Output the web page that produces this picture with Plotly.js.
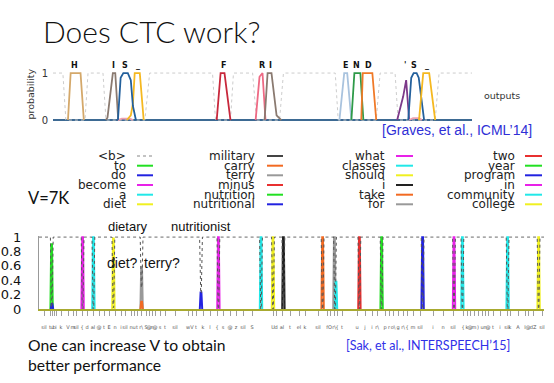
<!DOCTYPE html>
<html><head><meta charset="utf-8">
<script src="https://cdn.plot.ly/plotly-3.0.1.min.js"></script>
<style>html,body{margin:0;padding:0;background:#fff;}#chart{width:554px;height:383px;}</style>
</head><body><div id="chart"></div>
<script>
// ---------- DATA: top plot (CTC character outputs, frames 0..140) ----------
const topLetters = ['H','I','S','_','F','R','I','E','N','D',"'",'S','_'];
const topLetterFrames = [7.3,20.3,24,28.3,57,69.7,72.7,97.7,101.3,105.3,117.7,120.7,125];

const hX = [5,5.9,9.2,10.3];            const hY = [0,1,1,0];
const i1X = [17.6,18.2,20,20.8,21.8];   const i1Y = [0,0.05,1,1,0];
const s1X = [21.7,22.6,23.5,25,26,26.7,27.7]; const s1Y = [0,0.9,1,1,0.85,0.3,0];
const u1X = [24.7,26,26.7,27.3,29,30.3]; const u1Y = [0,0.1,0.35,1,1,0];
const p1X = [21.7,23,25.7,26.7];        const p1Y = [0,0.03,0.03,0];
const fX = [54.7,56,57.3,59.3];         const fY = [0,1,1,0];
const rX = [67.7,69,70,71];             const rY = [0,0.92,1,0];
const i2X = [70.7,71.7,73,74.7,76.3];   const i2Y = [0,1,1,0.1,0];
const eX = [95.7,97.3,98.3,99.7];       const eY = [0,1,1,0];
const nX = [99.7,100.7,102.7,103.7];    const nY = [0,1,1,0];
const dX = [103,103.5,106.7,108];       const dY = [0,1,1,0];
const aposX = [115,117,118,119];        const aposY = [0,0.5,0.85,0];
const s2X = [118.7,119.7,120.5,121.5,122.2,124]; const s2Y = [0,0.9,1,1,0.9,0];
const u2X = [122.3,123.7,125.7,127.7];  const u2Y = [0,1,1,0];
const p2X = [119,120.3,122.3,123.3];    const p2Y = [0,0.04,0.04,0];
const blankTopX = [0,3.3,4.3,10.7,11.7,16.7,17.7,30.7,32.3,53.3,54.3,59.3,60.3,66.7,68,75.7,77,94.3,95.3,108,109.3,114.3,115.3,127.7,129,140];
const blankTopY = [1,1,0,0,1,1,0,0,1,1,0,0,1,1,0,0,1,1,0,0,1,1,0,0,1,1];

// ---------- DATA: bottom plot (word outputs, V=7K, frames 0..252) ----------
const spikeWords   = ['to','do','become','a','diet','terry','carry','nutritional','what','classes','should','i','take','for','a','two','year','program','in','a','community','college'];
const spikeFrames  = [6.3,6.5,21.8,27.2,37.2,51.3,51.3,81,89.7,111,117,122.2,141.8,147.7,148.5,160.2,171.3,191.8,207.5,211.7,234.3,249.8];
const spikeHeights = [0.9,0.07,1,1,0.98,0.58,0.1,0.23,1,1,1,1,1,1,0.38,1,1,1,1,1,1,1];
const blankDipFrames = [6.4,21.8,27.2,37.2,51.3,81,89.7,111,117,122.2,141.8,148,160.2,171.3,191.8,207.5,211.7,234.3,249.8];
const blankDipValues = [0.03,0,0,0.02,0.3,0.22,0,0,0,0,0,0,0,0,0,0,0,0,0];
const phones = ['sil','t','u','b','i','k','V','m','sil','{','d','al','@','t','E','n','i','sil','n','u','t','r\\','S','@','n','@','s','t','sil','w','V','t','k','l','{','s','@','z','sil','S','U','d','al','t','el','k','sil','f','O','r\\','{','t','u','j','i','r\\','p','r','o\\','g','r\\','{','m','sil','i','n','sil','{','k','@','m',')','u','n','@','t','i','sil','k','A','l','@','dZ','sil'];
const phoneFrames = [2.5,5.5,6.5,7.5,8.5,11,14.5,17,18.5,21.5,24,27,30,32.5,35,38,41,43,46,47.5,49,51,53.5,55,56.5,58,60.5,63,68,74.5,76.5,78.5,82,85.5,89,92,95.5,98.5,102,106.5,117,118.5,121.5,125.5,130,133,139.5,144,145.5,147.5,149,151.5,159,163,166.5,169,173,175,177,179.5,182,184,187,190.5,197,202,207,212,214,215.5,217.5,219.5,221.5,223,224.5,227,230.5,234,235.5,239.5,243,244.5,247,251.5];
const yTicks2 = [0,0.2,0.4,0.6,0.8,1];
const yTickText2 = ['0','0.2','0.4','0.6','0.8','1'];

// legend words (4 columns)
const legendCol1 = ['<b>','to','do','become','a','diet'];
const legendCol2 = ['military','carry','terry','minus','nutrition','nutritional'];
const legendCol3 = ['what','classes','should','i','take','for'];
const legendCol4 = ['two','year','program','in','community','college'];

// ---------- STYLES ----------
const G='#22e022', B='#2222e0', M='#e822e8', C='#22e8e8', Y='#f0f020', K='#222222', O='#f26a22', GR='#999999', R='#e83030', DK='#444444';
const wordColor = {'<b>':'#888888','to':G,'do':B,'become':M,'a':C,'diet':Y,
  'military':DK,'carry':O,'terry':GR,'minus':R,'nutrition':G,'nutritional':B,
  'what':M,'classes':C,'should':Y,'i':K,'take':O,'for':GR,
  'two':R,'year':G,'program':B,'in':M,'community':C,'college':Y};

const W=554, H=383;
const px = v => v/W, py = v => 1 - v/H;

const traces = [];
function topTrace(x,y,color,w){ traces.push({type:'scatter',mode:'lines',x:x,y:y,xaxis:'x',yaxis:'y',line:{color:color,width:w||1.8},hoverinfo:'skip',showlegend:false}); }
topTrace(blankTopX, blankTopY, '#cccccc', 1);
traces[0].line.dash='dot';
topTrace(hX,hY,'#d4a86a'); topTrace(i1X,i1Y,'#8a7a70'); topTrace(p1X,p1Y,'#eea0b0');
topTrace(u1X,u1Y,'#f5b820'); topTrace(s1X,s1Y,'#23609c');
topTrace(fX,fY,'#c8283c'); topTrace(rX,rY,'#ee6a84'); topTrace(i2X,i2Y,'#8a7a70');
topTrace(eX,eY,'#a9c3de'); topTrace(nX,nY,'#2e9a48'); topTrace(dX,dY,'#f07a28');
topTrace(aposX,aposY,'#7d3a8a'); topTrace(p2X,p2Y,'#eea0b0');
topTrace(s2X,s2Y,'#23609c'); topTrace(u2X,u2Y,'#f5b820');

// bottom: word spikes
spikeWords.forEach((w,i)=>{
  const f=spikeFrames[i], h=spikeHeights[i];
  traces.push({type:'scatter',mode:'lines',x:[f-0.6,f-0.2,f+0.2,f+0.6],y:[0,h,h,0],xaxis:'x2',yaxis:'y2',
    line:{color:wordColor[w],width:2},hoverinfo:'skip',showlegend:false});
});
// bottom: blank (dotted)
const bx=[0], by=[1];
blankDipFrames.forEach((f,i)=>{ bx.push(f-0.7,f-0.15,f+0.15,f+0.7); by.push(1,blankDipValues[i],blankDipValues[i],1); });
bx.push(252.5); by.push(1);
traces.push({type:'scatter',mode:'lines',x:bx,y:by,xaxis:'x2',yaxis:'y2',line:{color:'#555555',width:1,dash:'dot'},hoverinfo:'skip',showlegend:false});

// ---------- annotations ----------
const ann = [];
const lato = 'Lato, "Open Sans", sans-serif';
const dj = '"DejaVu Sans", sans-serif';
const lib = '"Liberation Sans", Arial, sans-serif';
ann.push({text:'Does CTC work?',xref:'paper',yref:'paper',x:px(41),y:py(31),xanchor:'left',yanchor:'middle',showarrow:false,font:{family:lato,size:30,color:'#111',weight:300}});
topLetters.forEach((t,i)=>ann.push({text:t,xref:'x',yref:'y',x:topLetterFrames[i],y:1,xanchor:'center',yanchor:'bottom',yshift:1,showarrow:false,font:{family:dj,size:8,color:'#111',weight:'bold'}}));
ann.push({text:'outputs',xref:'paper',yref:'paper',x:px(502),y:py(96),xanchor:'center',yanchor:'middle',showarrow:false,font:{family:dj,size:9.5,color:'#333'}});
ann.push({text:"[Graves, et al., ICML’14]",xref:'paper',yref:'paper',x:px(534),y:py(130),xanchor:'right',yanchor:'middle',showarrow:false,font:{family:lib,size:14,color:'#2f2fd6'}});
ann.push({text:'V=7K',xref:'paper',yref:'paper',x:px(26),y:py(198),xanchor:'left',yanchor:'middle',showarrow:false,font:{family:lato,size:16.5,color:'#111'}});
const rowsY=[156,165.7,175.3,185,194.7,204.3];
const cols=[[legendCol1,128,137,153],[legendCol2,257,267,283],[legendCol3,387,396,413],[legendCol4,517,525,542]];
const shapes=[];
cols.forEach(([words,tr,l0,l1])=>{
  words.forEach((w,i)=>{
    ann.push({text:w.replace(/</g,'&lt;').replace(/>/g,'&gt;'),xref:'paper',yref:'paper',x:px(tr),y:py(rowsY[i]),xanchor:'right',yanchor:'middle',showarrow:false,font:{family:dj,size:12,color:'#222'}});
    shapes.push({type:'line',xref:'paper',yref:'paper',x0:px(l0),x1:px(l1),y0:py(rowsY[i]),y1:py(rowsY[i]),
      line:{color:wordColor[w],width:w==='<b>'?1.2:2,dash:w==='<b>'?'dot':'solid'}});
  });
});
ann.push({text:'dietary',xref:'x2',yref:'y2',x:44.5,y:1,xanchor:'center',yanchor:'bottom',yshift:1,showarrow:false,font:{family:lib,size:13,color:'#111'}});
ann.push({text:'nutritionist',xref:'x2',yref:'y2',x:81,y:1,xanchor:'center',yanchor:'bottom',yshift:1,showarrow:false,font:{family:lib,size:13,color:'#111'}});
ann.push({text:'diet?',xref:'x2',yref:'y2',x:41.5,y:0.635,xanchor:'center',yanchor:'middle',showarrow:false,font:{family:lib,size:14,color:'#111'}});
ann.push({text:'terry?',xref:'x2',yref:'y2',x:61.7,y:0.635,xanchor:'center',yanchor:'middle',showarrow:false,font:{family:lib,size:14,color:'#111'}});
ann.push({text:'One can increase V to obtain',xref:'paper',yref:'paper',x:px(26),y:py(345),xanchor:'left',yanchor:'middle',showarrow:false,font:{family:lato,size:15.7,color:'#111'}});
ann.push({text:'better performance',xref:'paper',yref:'paper',x:px(26),y:py(365),xanchor:'left',yanchor:'middle',showarrow:false,font:{family:lato,size:15.7,color:'#111'}});
ann.push({text:"[Sak, et al., INTERSPEECH’15]",xref:'paper',yref:'paper',x:px(512),y:py(345),xanchor:'right',yanchor:'middle',showarrow:false,font:{family:lato,size:12.5,color:'#3030e8'}});

const layout = {
  width:W, height:H, margin:{l:0,r:0,t:0,b:0}, paper_bgcolor:'#fff', plot_bgcolor:'rgba(0,0,0,0)', showlegend:false,
  xaxis:{domain:[px(53),px(472)],range:[0,140],showgrid:false,zeroline:false,showticklabels:false,ticks:'',showline:false,fixedrange:true},
  yaxis:{domain:[py(122.4),py(66)],range:[-0.05,1.15],tickvals:[0,1],ticktext:['0','1'],showgrid:false,zeroline:true,zerolinecolor:'#3d6a93',zerolinewidth:2.5,
    ticks:'',ticklabelstandoff:4,tickfont:{family:dj,size:10,color:'#333'},showline:false,
    title:{text:'probability',standoff:5,font:{family:dj,size:9.5,color:'#333'}}},
  xaxis2:{domain:[px(39),px(544)],range:[0,252.5],anchor:'y2',showgrid:false,zeroline:false,showline:true,linecolor:'#a8aa30',linewidth:2,
    tickvals:phoneFrames,ticktext:phones,ticks:'outside',ticklen:5,tickwidth:0.8,tickcolor:'#888',tickangle:0,ticklabelstandoff:7,
    tickfont:{family:dj,size:5,color:'#555'}},
  yaxis2:{domain:[py(309),py(236.3)],range:[0,1.01],anchor:'x2',tickvals:yTicks2,ticktext:yTickText2,showgrid:false,zeroline:false,
    showline:true,linecolor:'#999',linewidth:1,ticks:'',ticklabelstandoff:14,tickfont:{family:dj,size:13,color:'#111'}},
  annotations:ann, shapes:shapes
};
Plotly.newPlot('chart',traces,layout,{staticPlot:true,displayModeBar:false});
</script></body></html>
